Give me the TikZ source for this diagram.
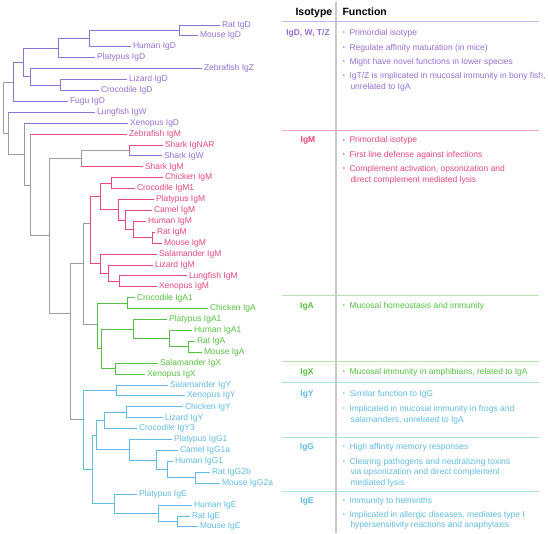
\documentclass[tikz,border=0pt]{standalone}
\usepackage{fontspec}
\setmainfont{Liberation Sans}
\usepackage{xcolor}
\definecolor{igdcol}{RGB}{146,112,214}
\definecolor{igmcol}{RGB}{232,72,122}
\definecolor{igacol}{RGB}{84,194,64}
\definecolor{igycol}{RGB}{96,188,226}
\definecolor{grycol}{RGB}{155,155,165}
\newcommand{\bul}{\llap{\raisebox{0.5pt}{\fontsize{6}{6}\selectfont\textbullet}\hspace{4.5pt}}}

\begin{document}
\begin{tikzpicture}
[x = 1pt, y = -1pt, line width = 1pt,
 leaf/.style = {anchor=west, inner xsep=1.5pt, inner ysep=0pt, font=\fontsize{8.5}{10}\selectfont},
 fn/.style = {anchor=base west, inner sep=0pt, font=\fontsize{8.5}{10}\selectfont},
 iso/.style = {anchor=base, inner sep=0pt, font=\fontsize{8.5}{10}\selectfont\bfseries},
 hd/.style = {anchor=base west, inner sep=0pt, font=\fontsize{10.5}{12}\selectfont\bfseries},
 pu/.style = {color=igdcol}, pk/.style = {color=igmcol},
 gn/.style = {color=igacol}, bl/.style = {color=igycol},
 gr/.style = {color=grycol},
 rowline/.style = {line width=0.7pt}]
\useasboundingbox (0,0) rectangle (548,533);

% leaves of the tree
\node[leaf, pu] (l1) at (220,25) {Rat IgD};
\node[leaf, pu] (l2) at (198,35.9) {Mouse IgD};
\node[leaf, pu] (l3) at (131,46.8) {Human IgD};
\node[leaf, pu] (l4) at (95,57.7) {Platypus IgD};
\node[leaf, pu] (l5) at (202,68.6) {Zebrafish IgZ};
\node[leaf, pu] (l6) at (127,79.6) {Lizard IgD};
\node[leaf, pu] (l7) at (99,90.5) {Crocodile IgD};
\node[leaf, pu] (l8) at (68,101.4) {Fugu IgD};
\node[leaf, pu] (l9) at (95,112.3) {Lungfish IgW};
\node[leaf, pu] (l10) at (128,123.2) {Xenopus IgD};
\node[leaf, pk] (l11) at (127,134.1) {Zebrafish IgM};
\node[leaf, pk] (l12) at (163,145) {Shark IgNAR};
\node[leaf, pu] (l13) at (162,155.9) {Shark IgW};
\node[leaf, pk] (l14) at (143,166.8) {Shark IgM};
\node[leaf, pk] (l15) at (163,177.7) {Chicken IgM};
\node[leaf, pk] (l16) at (135,188.7) {Crocodile IgM1};
\node[leaf, pk] (l17) at (154,199.6) {Platypus IgM};
\node[leaf, pk] (l18) at (152,210.5) {Camel IgM};
\node[leaf, pk] (l19) at (146,221.4) {Human IgM};
\node[leaf, pk] (l20) at (155,232.3) {Rat IgM};
\node[leaf, pk] (l21) at (162,243.2) {Mouse IgM};
\node[leaf, pk] (l22) at (157,254.1) {Salamander IgM};
\node[leaf, pk] (l23) at (153,265) {Lizard IgM};
\node[leaf, pk] (l24) at (187,275.9) {Lungfish IgM};
\node[leaf, pk] (l25) at (157,286.8) {Xenopus IgM};
\node[leaf, gn] (l26) at (135,297.8) {Crocodile IgA1};
\node[leaf, gn] (l27) at (208,308.7) {Chicken IgA};
\node[leaf, gn] (l28) at (167,319.6) {Platypus IgA1};
\node[leaf, gn] (l29) at (192,330.5) {Human IgA1};
\node[leaf, gn] (l30) at (195,341.4) {Rat IgA};
\node[leaf, gn] (l31) at (202,352.3) {Mouse IgA};
\node[leaf, gn] (l32) at (158,363.2) {Salamander IgX};
\node[leaf, gn] (l33) at (145,374.1) {Xenopus IgX};
\node[leaf, bl] (l34) at (168,385) {Salamander IgY};
\node[leaf, bl] (l35) at (185,395.9) {Xenopus IgY};
\node[leaf, bl] (l36) at (183,406.9) {Chicken IgY};
\node[leaf, bl] (l37) at (163,417.8) {Lizard IgY};
\node[leaf, bl] (l38) at (137,428.7) {Crocodile IgY3};
\node[leaf, bl] (l39) at (172,439.6) {Platypus IgG1};
\node[leaf, bl] (l40) at (178,450.5) {Camel IgG1a};
\node[leaf, bl] (l41) at (173,461.4) {Human IgG1};
\node[leaf, bl] (l42) at (210,472.3) {Rat IgG2b};
\node[leaf, bl] (l43) at (220,483.2) {Mouse IgG2a};
\node[leaf, bl] (l44) at (137,494.1) {Platypus IgE};
\node[leaf, bl] (l45) at (192,505) {Human IgE};
\node[leaf, bl] (l46) at (190,516) {Rat IgE};
\node[leaf, bl] (l47) at (198,526.9) {Mouse IgE};

% joints
\coordinate (r) at (3,107.5);
\coordinate (d1) at (179,30.5);
\coordinate (d2) at (89,38.7);
\coordinate (d3) at (58,48.2);
\coordinate (d5) at (60,85);
\coordinate (d4) at (30,76.8);
\coordinate (d6) at (23,62.5);
\coordinate (d7) at (13,82);
\coordinate (b1) at (8,133.2);
\coordinate (b2) at (24,154.1);
\coordinate (b3) at (30,185);
\coordinate (b4) at (49,235.7);
\coordinate (s1) at (81,158.6);
\coordinate (s2) at (129,150.5);
\coordinate (b5) at (70.7,313);
\coordinate (b6) at (83,263);
\coordinate (m0) at (90,223);
\coordinate (m1) at (100,196.5);
\coordinate (m2) at (111,183.2);
\coordinate (m3) at (118,209.8);
\coordinate (m4) at (125,220);
\coordinate (m5) at (133,229.6);
\coordinate (m6) at (100,263.6);
\coordinate (m7) at (108,273.2);
\coordinate (m8) at (119,281.4);
\coordinate (m9) at (152,237.8);
\coordinate (a0) at (97,324);
\coordinate (a1) at (127,303.3);
\coordinate (a2) at (101,348.9);
\coordinate (a3) at (133,329.2);
\coordinate (a4) at (169,338.7);
\coordinate (a5) at (188,346.9);
\coordinate (a6) at (115,368.7);
\coordinate (y1) at (83,419);
\coordinate (y2) at (116,390.5);
\coordinate (y3) at (92,469.4);
\coordinate (y4) at (96.7,435.2);
\coordinate (y5) at (104,420.5);
\coordinate (y6) at (126,412.4);
\coordinate (y7) at (129,449.8);
\coordinate (y8) at (156,460);
\coordinate (y9) at (167,469.6);
\coordinate (y10) at (195,477.8);
\coordinate (y11) at (114,503.7);
\coordinate (y12) at (158,513.2);
\coordinate (y13) at (177,521.5);

% grey backbone
\draw[gr] (r) |- (d7) (r) |- (b1);
\draw[gr] (b1 |- l9.west) |- (b2);
\draw[gr] (b2 |- l10.west) |- (b3);
\draw[gr] (b3 |- l11.west) |- (b4);
\draw[gr] (b4) |- (s1) (b4) |- (b5);
\draw[gr] (s1 |- l14.west) |- (s2);
\draw[gr] (b5) |- (b6) (b5) |- (y1);
\draw[gr] (b6) |- (m0) (b6) |- (a0);

% IgD, W, T/Z
\draw[pu] (d7) |- (d6) (d7) |- (l8);
\draw[pu] (d6) |- (d3) (d6) |- (d4);
\draw[pu] (d3) |- (d2) (d3) |- (l4);
\draw[pu] (d2) |- (d1) (d2) |- (l3);
\draw[pu] (d1) |- (l1) (d1) |- (l2);
\draw[pu] (d4) |- (l5) (d4) |- (d5);
\draw[pu] (d5) |- (l6) (d5) |- (l7);
\draw[pu] (b1 |- l9.west) -- (l9);
\draw[pu] (b2 |- l10.west) -- (l10);
\draw[pu] (s2) |- (l13);

% IgM
\draw[pk] (b3 |- l11.west) -- (l11);
\draw[pk] (s2) |- (l12);
\draw[pk] (s1 |- l14.west) -- (l14);
\draw[pk] (m0) |- (m1) (m0) |- (m6);
\draw[pk] (m1) |- (m2) (m1) |- (m3);
\draw[pk] (m2) |- (l15) (m2) |- (l16);
\draw[pk] (m3) |- (l17) (m3) |- (m4);
\draw[pk] (m4) |- (l18) (m4) |- (m5);
\draw[pk] (m5) |- (l19) (m5) |- (m9);
\draw[pk] (m9) |- (l20) (m9) |- (l21);
\draw[pk] (m6) |- (l22) (m6) |- (m7);
\draw[pk] (m7) |- (l23) (m7) |- (m8);
\draw[pk] (m8) |- (l24) (m8) |- (l25);

% IgA and IgX
\draw[gn] (a0) |- (a1) (a0) |- (a2);
\draw[gn] (a1) |- (l26) (a1) |- (l27);
\draw[gn] (a2) |- (a3) (a2) |- (a6);
\draw[gn] (a3) |- (l28) (a3) |- (a4);
\draw[gn] (a4) |- (l29) (a4) |- (a5);
\draw[gn] (a5) |- (l30) (a5) |- (l31);
\draw[gn] (a6) |- (l32) (a6) |- (l33);

% IgY, IgG and IgE
\draw[bl] (y1) |- (y2) (y1) |- (y3);
\draw[bl] (y2) |- (l34) (y2) |- (l35);
\draw[bl] (y3) |- (y4) (y3) |- (y11);
\draw[bl] (y4) |- (y5) (y4) |- (y7);
\draw[bl] (y5) |- (y6) (y5) |- (l38);
\draw[bl] (y6) |- (l36) (y6) |- (l37);
\draw[bl] (y7) |- (l39) (y7) |- (y8);
\draw[bl] (y8) |- (l40) (y8) |- (y9);
\draw[bl] (y9) |- (l41) (y9) |- (y10);
\draw[bl] (y10) |- (l42) (y10) |- (l43);
\draw[bl] (y11) |- (l44) (y11) |- (y12);
\draw[bl] (y12) |- (l45) (y12) |- (y13);
\draw[bl] (y13) |- (l46) (y13) |- (l47);

% table
\draw[color=black!22, line width=1.5pt] (336,2) -- (336,533);
\draw[rowline, color=igdcol!50] (282,21) -- (539,21);
\draw[rowline, color=igmcol!45] (282,130) -- (539,130);
\draw[rowline, color=igacol!45] (282,295) -- (539,295);
\draw[rowline, color=igacol!45] (282,361) -- (539,361);
\draw[rowline, color=igycol!50] (282,382) -- (539,382);
\draw[rowline, color=igycol!50] (282,437) -- (539,437);
\draw[rowline, color=igycol!50] (282,491) -- (539,491);

\node[hd] (h1) at (295,15) {Isotype};
\node[hd] (h2) at (342,15) {Function};

\node[iso, pu] (t1) at (308,35) {IgD, W, T/Z};
\node[fn, pu] (f1) at (349,35) {\bul Primordial isotype};
\node[fn, pu] (f2) at (349,50) {\bul Regulate affinity maturation (in mice)};
\node[fn, pu] (f3) at (349,64) {\bul Might have novel functions in lower species};
\node[fn, pu] (f4) at (349,78) {\bul IgT/Z is implicated in mucosal immunity in bony fish,};
\node[fn, pu] (f5) at (350,89.5) {unrelated to IgA};

\node[iso, pk] (t2) at (308,142.7) {IgM};
\node[fn, pk] (f6) at (349,142.7) {\bul Primordial isotype};
\node[fn, pk] (f7) at (349,157) {\bul First line defense against infections};
\node[fn, pk] (f8) at (349,171.3) {\bul Complement activation, opsonization and};
\node[fn, pk] (f9) at (350,182) {direct complement mediated lysis};

\node[iso, gn] (t3) at (307,308) {IgA};
\node[fn, gn] (f10) at (349,308) {\bul Mucosal homeostasis and immunity};

\node[iso, gn] (t4) at (307,374) {IgX};
\node[fn, gn] (f11) at (349,374) {\bul Mucosal immunity in amphibians, related to IgA};

\node[iso, bl] (t5) at (307,396) {IgY};
\node[fn, bl] (f12) at (349,396) {\bul Similar function to IgG};
\node[fn, bl] (f13) at (349,411) {\bul Implicated in mucosal immunity in frogs and};
\node[fn, bl] (f14) at (350,422) {salamanders, unrelated to IgA};

\node[iso, bl] (t6) at (307,449) {IgG};
\node[fn, bl] (f15) at (349,449) {\bul High affinity memory responses};
\node[fn, bl] (f16) at (349,464) {\bul Clearing pathogens and neutralizing toxins};
\node[fn, bl] (f17) at (350,474.5) {via opsonization and direct complement};
\node[fn, bl] (f18) at (350,485) {mediated lysis};

\node[iso, bl] (t7) at (307,503) {IgE};
\node[fn, bl] (f19) at (349,503) {\bul Immunity to helminths};
\node[fn, bl] (f20) at (349,517) {\bul Implicated in allergic diseases, mediates type I};
\node[fn, bl] (f21) at (350,527.5) {hypersensitivity reactions and anaphylaxis};

\end{tikzpicture}
\end{document}
